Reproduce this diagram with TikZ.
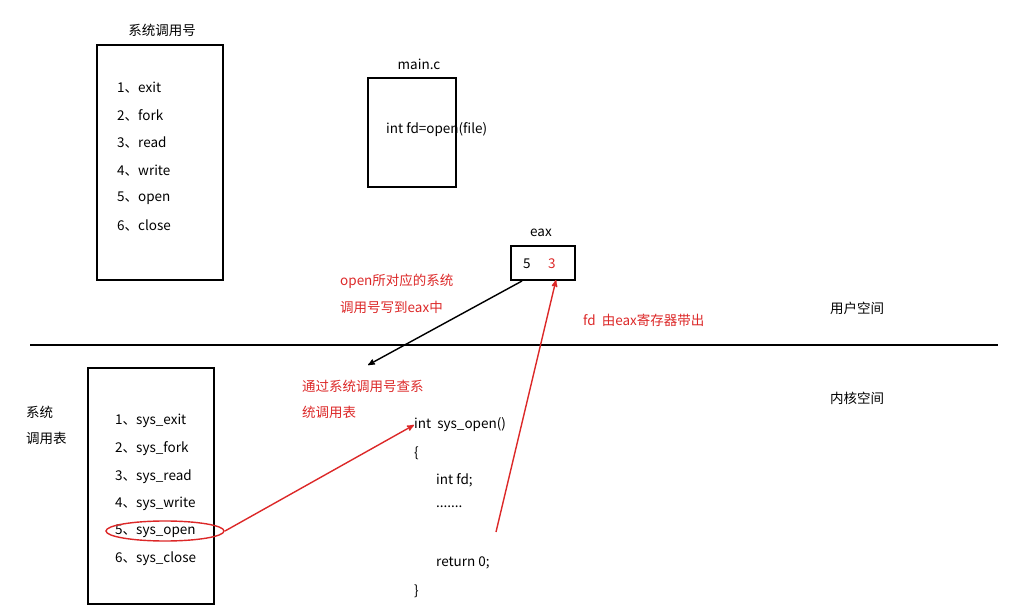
\documentclass[tikz,border=0pt]{standalone}
\usepackage{fontspec}
\setmainfont{Noto Sans CJK SC}
\usetikzlibrary{arrows,positioning}
\definecolor{myred}{RGB}{220,40,40}
\tikzset{>=stealth',
         box/.style={draw,line width=1.4pt},
         txt/.style={anchor=west,inner sep=0pt,font=\fontsize{13.5}{15}\selectfont},
         rtxt/.style={txt,text=myred},
         redarrow/.style={->,myred,line width=1.4pt}}
\begin{document}
\begin{tikzpicture}[x=1pt,y=-1pt]
  \useasboundingbox (0,0) rectangle (1018,612);
  % syscall numbers
  \draw[box] (97,45) rectangle (223,280);
  \node[txt,anchor=center] (numtitle) at (162,30) {系统调用号};
  \foreach \n/\s [count=\i] in {1/exit,2/fork,3/read,4/write,5/open,6/close}
    \node[txt] (num-\i) at (117,60+27.6*\i) {\n、\s};
  % main.c
  \draw[box] (368,78) rectangle (456,187);
  \node[txt,anchor=center] (maintitle) at (419,64) {main.c};
  \node[txt] (call) at (386,130) {int fd=open(file)};
  % eax
  \draw[box] (511,246) rectangle (575,280);
  \node[txt,anchor=center] (eaxtitle) at (541,233) {eax};
  \node[txt] (five) at (523,264) {5};
  \node[rtxt] (three) at (548,264) {3};
  \node[rtxt] (note1) at (340,281) {open所对应的系统};
  \node[rtxt] (note2) at (340,307) {调用号写到eax中};
  \coordinate (eaxout) at (522,281);
  \coordinate (tablein) at (368,365);
  \draw[->,line width=1.4pt] (eaxout) -- (tablein);
  % user / kernel split
  \draw[line width=2pt] (30,345) -- (998,345);
  \node[txt] (user) at (830,308) {用户空间};
  \node[txt] (kernel) at (830,398) {内核空间};
  \node[rtxt] (note3) at (583,320) {fd\ \ 由eax寄存器带出};
  % syscall table
  \draw[box] (88,368) rectangle (214,604);
  \node[txt] (tab1) at (26,412) {系统};
  \node[txt] (tab2) at (26,438) {调用表};
  \foreach \s [count=\i] in {exit,fork,read,write,open,close}
    \node[txt] (sys-\i) at (115,393.5+27.6*\i) {\i、sys\_\s};
  \draw[myred,line width=1.4pt] (165,531) ellipse (59 and 10);
  \node[rtxt] (note4) at (302,386) {通过系统调用号查系};
  \node[rtxt] (note5) at (302,412) {统调用表};
  % sys_open body
  \node[txt] (c1) at (414,425) {int\ \ sys\_open()};
  \node[txt] (c2) at (414,453) {\{};
  \node[txt] (c3) at (436,480) {int fd;};
  \node[txt] (c4) at (436,507) {.......};
  \node[txt] (c5) at (436,563) {return 0;};
  \node[txt] (c6) at (414,591) {\}};
  \coordinate (ell) at (225,531);
  \coordinate (ret) at (496,532);
  \coordinate (eaxin) at (556,280);
  \draw[redarrow] (ell) -- (c1.west);
  \draw[redarrow] (ret) -- (eaxin);
\end{tikzpicture}
\end{document}
